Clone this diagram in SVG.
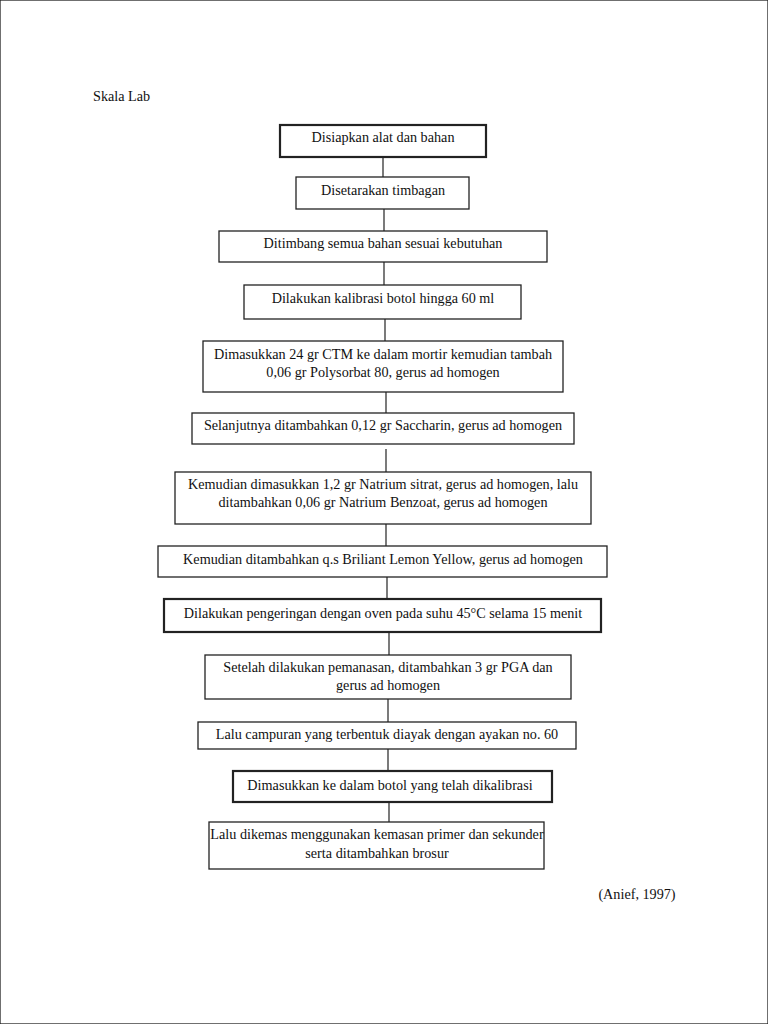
<svg xmlns="http://www.w3.org/2000/svg" width="768" height="1024" viewBox="0 0 768 1024">
<style>
rect{fill:#fff;stroke:#222;stroke-width:1.3}
rect.thick{stroke-width:2.2}
line{stroke:#333;stroke-width:1.3}
text{font-family:"Liberation Serif",serif;font-size:14.2px;fill:#111;text-anchor:middle}
</style>
<rect width="768" height="1024" fill="#fff" stroke="none"/>
<text x="93" y="101" style="text-anchor:start">Skala Lab</text>
<text x="637" y="899">(Anief, 1997)</text>
<g id="connectors">
<line x1="383" y1="157" x2="383" y2="177"/>
<line x1="384" y1="209" x2="384" y2="231"/>
<line x1="384" y1="262" x2="384" y2="285"/>
<line x1="385" y1="319" x2="385" y2="341"/>
<line x1="386" y1="392" x2="386" y2="413"/>
<line x1="386" y1="449" x2="386" y2="472"/>
<line x1="386" y1="524" x2="386" y2="546"/>
<line x1="387" y1="577" x2="387" y2="599"/>
<line x1="389" y1="632" x2="389" y2="655"/>
<line x1="388" y1="699" x2="388" y2="722"/>
<line x1="388" y1="749" x2="388" y2="771"/>
<line x1="389" y1="802" x2="389" y2="822"/>
</g>
<g id="n1"><rect class="thick" x="280" y="125" width="206" height="32"/><text x="383" y="142">Disiapkan alat dan bahan</text></g>
<g id="n2"><rect x="296" y="177" width="173" height="32"/><text x="383" y="195">Disetarakan timbagan</text></g>
<g id="n3"><rect x="219" y="231" width="328" height="31"/><text x="383" y="248">Ditimbang semua bahan sesuai kebutuhan</text></g>
<g id="n4"><rect x="244" y="285" width="277" height="34"/><text x="383" y="303">Dilakukan kalibrasi botol hingga 60 ml</text></g>
<g id="n5"><rect x="203" y="341" width="360" height="51"/><text x="383" y="359">Dimasukkan 24 gr CTM ke dalam mortir kemudian tambah</text><text x="383" y="377">0,06 gr Polysorbat 80, gerus ad homogen</text></g>
<g id="n6"><rect x="192" y="413" width="382" height="31"/><text x="383" y="430">Selanjutnya ditambahkan 0,12 gr Saccharin, gerus ad homogen</text></g>
<g id="n7"><rect x="175" y="472" width="416" height="52"/><text x="383" y="489">Kemudian dimasukkan 1,2 gr Natrium sitrat, gerus ad homogen, lalu</text><text x="383" y="507">ditambahkan 0,06 gr Natrium Benzoat, gerus ad homogen</text></g>
<g id="n8"><rect x="158" y="546" width="449" height="31"/><text x="383" y="564">Kemudian ditambahkan q.s Briliant Lemon Yellow, gerus ad homogen</text></g>
<g id="n9"><rect class="thick" x="164" y="599" width="437" height="33"/><text x="383" y="618">Dilakukan pengeringan dengan oven pada suhu 45°C selama 15 menit</text></g>
<g id="n10"><rect x="205" y="655" width="366" height="44"/><text x="388" y="672">Setelah dilakukan pemanasan, ditambahkan 3 gr PGA dan</text><text x="388" y="690">gerus ad homogen</text></g>
<g id="n11"><rect x="198" y="722" width="378" height="27"/><text x="387" y="739">Lalu campuran yang terbentuk diayak dengan ayakan no. 60</text></g>
<g id="n12"><rect class="thick" x="233" y="771" width="319" height="31"/><text x="390" y="790">Dimasukkan ke dalam botol yang telah dikalibrasi</text></g>
<g id="n13"><rect x="209" y="822" width="335" height="47"/><text x="377" y="839">Lalu dikemas menggunakan kemasan primer dan sekunder</text><text x="377" y="858">serta ditambahkan brosur</text></g>
</svg>
